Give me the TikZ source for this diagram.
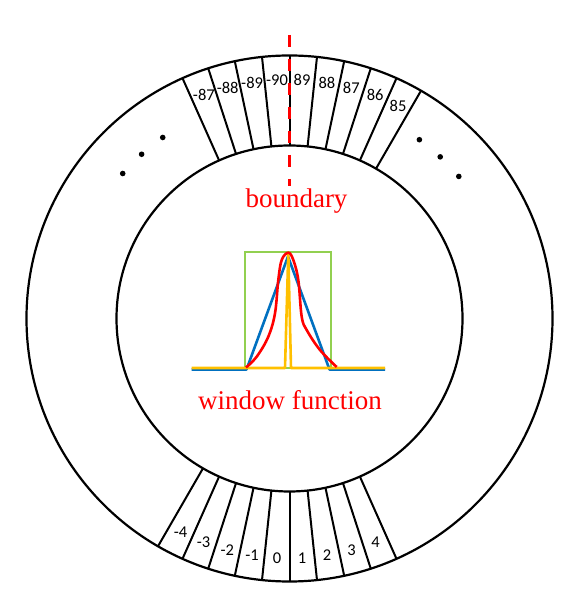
\documentclass[tikz,border=0pt]{standalone}
\usepackage{fontspec}
\setmainfont{Liberation Serif}
\newfontfamily\binfont{Carlito}
\usetikzlibrary{positioning}
\definecolor{winred}{RGB}{255,0,0}
\definecolor{wingreen}{RGB}{146,208,80}
\definecolor{winblue}{RGB}{0,112,192}
\definecolor{winyellow}{RGB}{255,192,0}

\begin{document}
\begin{tikzpicture}[
        x=1pt, y=1pt,
        ring/.style={draw, line width=2.2pt},
        bin/.style={draw, line width=2pt},
        binlabel/.style={font=\binfont\fontsize{16.5}{19}\selectfont, inner sep=0pt},
        redlabel/.style={text=winred, font=\fontsize{27}{32}\selectfont, inner sep=0pt, anchor=base},
        curve/.style={line width=2.6pt, line join=round}
    ]
        \useasboundingbox (-289.5,-282.5) rectangle (295.5,318.5);

        % Ring
        \draw[ring] (0,0) circle (263);
        \draw[ring] (0,0) circle (173);

        % Bins
        \foreach \a in {60,66,...,114} \draw[bin] (\a:173) -- (\a:263);
        \foreach \a in {240,246,...,294} \draw[bin] (\a:173) -- (\a:263);

        % Bin labels
        \foreach \lab/\a in {85/63, 86/69, 87/75, 88/81, 89/87, -90/93, -89/99, -88/105, -87/111}
            \node[binlabel] (top\a) at (\a:239) {\lab};
        \foreach \lab/\a in {-4/243, -3/249, -2/255, -1/261, 0/267, 1/273, 2/279, 3/285, 4/291}
            \node[binlabel] (bot\a) at (\a:240) {\lab};

        % Dots
        \foreach \a in {125,132,139,40,47,54} \fill (\a:221) circle (2.8);

        % Boundary
        \coordinate (cuttop) at (0,283.5);
        \coordinate (cutbot) at (0,132.5);
        \draw[winred, line width=3.5pt, dash pattern=on 12.5pt off 11.5pt] (cuttop) -- (cutbot);
        \node[redlabel] (bnd) at (7,111) {boundary};

        % Window functions
        \draw[wingreen, line width=2pt] (-44.5,-49.5) rectangle (41.3,66.5);
        \draw[winblue, curve] (-97.8,-51) -- (-43,-51) -- (-1.5,62) -- (40,-51) -- (95.5,-51);
        \draw[winyellow, curve] (-97.8,-49.5) -- (-4.5,-49.5) -- (-1.2,65.8) -- (1.5,-49.5) -- (95.5,-49.5);
        \draw[winred, curve] plot[smooth, tension=0.6] coordinates {(-43.5,-49) (-32.8,-38.2) (-21.2,-18.2) (-14.5,5.2) (-11.2,38.5) (-7.8,58.5) (-1.2,65.8) (3.8,58.5) (8.8,38.5) (12.2,1.8) (17.2,-11.5) (30.5,-31.5) (47.2,-48.5)};
        \node[redlabel] (win) at (0.5,-91.5) {window function};
    \end{tikzpicture}
\end{document}
